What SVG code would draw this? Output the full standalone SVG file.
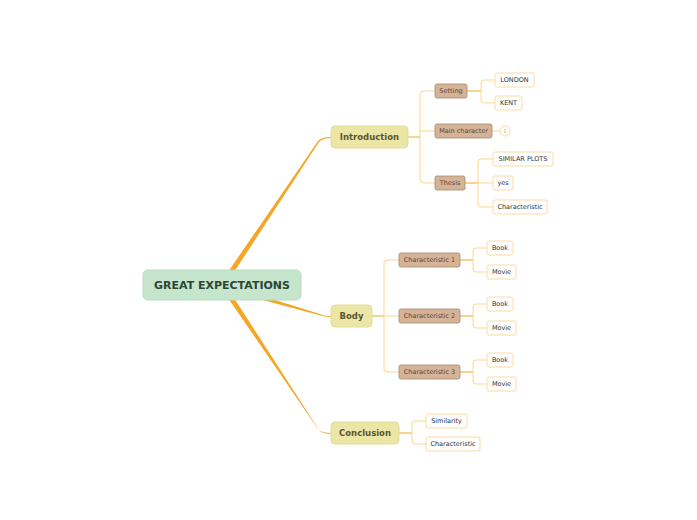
<svg xmlns="http://www.w3.org/2000/svg" width="697" height="520" viewBox="0 0 697 520">
<defs>
<style>
text{font-family:"DejaVu Sans","Liberation Sans",sans-serif;dominant-baseline:central;text-anchor:middle}
.l1 rect{fill:#ebe6a5;stroke:#e2dc98;stroke-width:1}
.l1 text{font-size:8.5px;font-weight:bold;fill:#5b5530}
.l2 rect{fill:#d6b396;stroke:#a68a70;stroke-width:0.8}
.l2 text{font-size:6.5px;fill:#5a4636}
.lf rect{fill:#fff;stroke:#fbd28a;stroke-width:0.8}
.lf text{font-size:6.5px;fill:#333}
.c{fill:none;stroke:#fcd58e;stroke-width:1}
.m{fill:none;stroke:#f6a623;stroke-width:1}
</style>
</defs>
<g id="connectors">
<path d="M228,272 L318,141 Q322,137 331,137 L331,138 Q323,138 319,142 L234,272 Z" fill="#f6a623"/>
<path d="M262,296 L320,314 Q324,316 331,316 L331,317 Q324,317 319,315 L255,298 Z" fill="#f6a623"/>
<path d="M228,298 L318,429 Q322,433 331,433 L331,434 Q323,434 319,430 L234,298 Z" fill="#f6a623"/>
<path class="m" d="M408,137 H420"/>
<path class="c" d="M435,91 H424 Q420,91 420,95 V179 Q420,183 424,183 H435 M420,131 H435"/>
<path class="m" d="M467,91 H481"/>
<path class="c" d="M495,80 H484 Q481,80 481,83 V100 Q481,103 484,103 H495"/>
<path class="c" d="M492,131 H500"/>
<path class="m" d="M465,183 H478"/>
<path class="c" d="M493,159 H481 Q478,159 478,162 V204 Q478,207 481,207 H493 M478,183 H493"/>
<path class="m" d="M372,316 H384"/>
<path class="c" d="M399,260 H387 Q384,260 384,263 V369 Q384,372 387,372 H399 M384,316 H399"/>
<path class="m" d="M460,260 H473 M460,316 H473 M460,372 H473"/>
<path class="c" d="M487,248 H476 Q473,248 473,251 V269 Q473,272 476,272 H487"/>
<path class="c" d="M487,304 H476 Q473,304 473,307 V325 Q473,328 476,328 H487"/>
<path class="c" d="M487,360 H476 Q473,360 473,363 V381 Q473,384 476,384 H487"/>
<path class="m" d="M399,433 H412"/>
<path class="c" d="M426,421 H415 Q412,421 412,424 V441 Q412,444 415,444 H426"/>
</g>
<g id="root"><rect x="143" y="270" width="158" height="30" rx="5" fill="#c5e6cc" stroke="#b8dcc0"/><text x="222" y="285.5" font-size="11" font-weight="bold" fill="#2d4535">GREAT EXPECTATIONS</text></g>
<g id="introduction" class="l1"><rect x="331" y="126" width="77" height="22" rx="4"/><text x="369.5" y="137">Introduction</text></g>
<g id="body" class="l1"><rect x="331" y="305" width="41" height="22" rx="4"/><text x="351.5" y="316">Body</text></g>
<g id="conclusion" class="l1"><rect x="331" y="422" width="68" height="22" rx="4"/><text x="365" y="433">Conclusion</text></g>
<g id="setting" class="l2"><rect x="435" y="84" width="32" height="14" rx="2"/><text x="451" y="91">Setting</text></g>
<g id="main-character" class="l2"><rect x="435" y="124" width="57" height="14" rx="2"/><text x="463.5" y="131">Main character</text></g>
<g id="thesis" class="l2"><rect x="435" y="176" width="30" height="14" rx="2"/><text x="450" y="183">Thesis</text></g>
<g id="char1" class="l2"><rect x="399" y="253" width="61" height="14" rx="2"/><text x="429.5" y="260">Characteristic 1</text></g>
<g id="char2" class="l2"><rect x="399" y="309" width="61" height="14" rx="2"/><text x="429.5" y="316">Characteristic 2</text></g>
<g id="char3" class="l2"><rect x="399" y="365" width="61" height="14" rx="2"/><text x="429.5" y="372">Characteristic 3</text></g>
<g id="london" class="lf"><rect x="495" y="73" width="39" height="14" rx="2"/><text x="514.5" y="80">LONDON</text></g>
<g id="kent" class="lf"><rect x="495" y="96" width="27" height="14" rx="2"/><text x="508.5" y="103">KENT</text></g>
<g id="badge"><circle cx="505" cy="131" r="5" fill="#fff" stroke="#fbd28a" stroke-width="0.8"/><text x="505" y="131" font-size="5" fill="#e0a040">1</text></g>
<g id="similar-plots" class="lf"><rect x="493" y="152" width="60" height="14" rx="2"/><text x="523" y="159">SIMILAR PLOTS</text></g>
<g id="yes" class="lf"><rect x="493" y="176" width="20" height="14" rx="2"/><text x="503" y="183">yes</text></g>
<g id="thesis-char" class="lf"><rect x="493" y="200" width="54" height="14" rx="2"/><text x="520" y="207">Characteristic</text></g>
<g id="book1" class="lf"><rect x="487" y="241" width="26" height="14" rx="2"/><text x="500" y="248">Book</text></g>
<g id="movie1" class="lf"><rect x="487" y="265" width="29" height="14" rx="2"/><text x="501.5" y="272">Movie</text></g>
<g id="book2" class="lf"><rect x="487" y="297" width="26" height="14" rx="2"/><text x="500" y="304">Book</text></g>
<g id="movie2" class="lf"><rect x="487" y="321" width="29" height="14" rx="2"/><text x="501.5" y="328">Movie</text></g>
<g id="book3" class="lf"><rect x="487" y="353" width="26" height="14" rx="2"/><text x="500" y="360">Book</text></g>
<g id="movie3" class="lf"><rect x="487" y="377" width="29" height="14" rx="2"/><text x="501.5" y="384">Movie</text></g>
<g id="similarity" class="lf"><rect x="426" y="414" width="41" height="14" rx="2"/><text x="446.5" y="421">Similarity</text></g>
<g id="concl-char" class="lf"><rect x="426" y="437" width="54" height="14" rx="2"/><text x="453" y="444">Characteristic</text></g>
</svg>
